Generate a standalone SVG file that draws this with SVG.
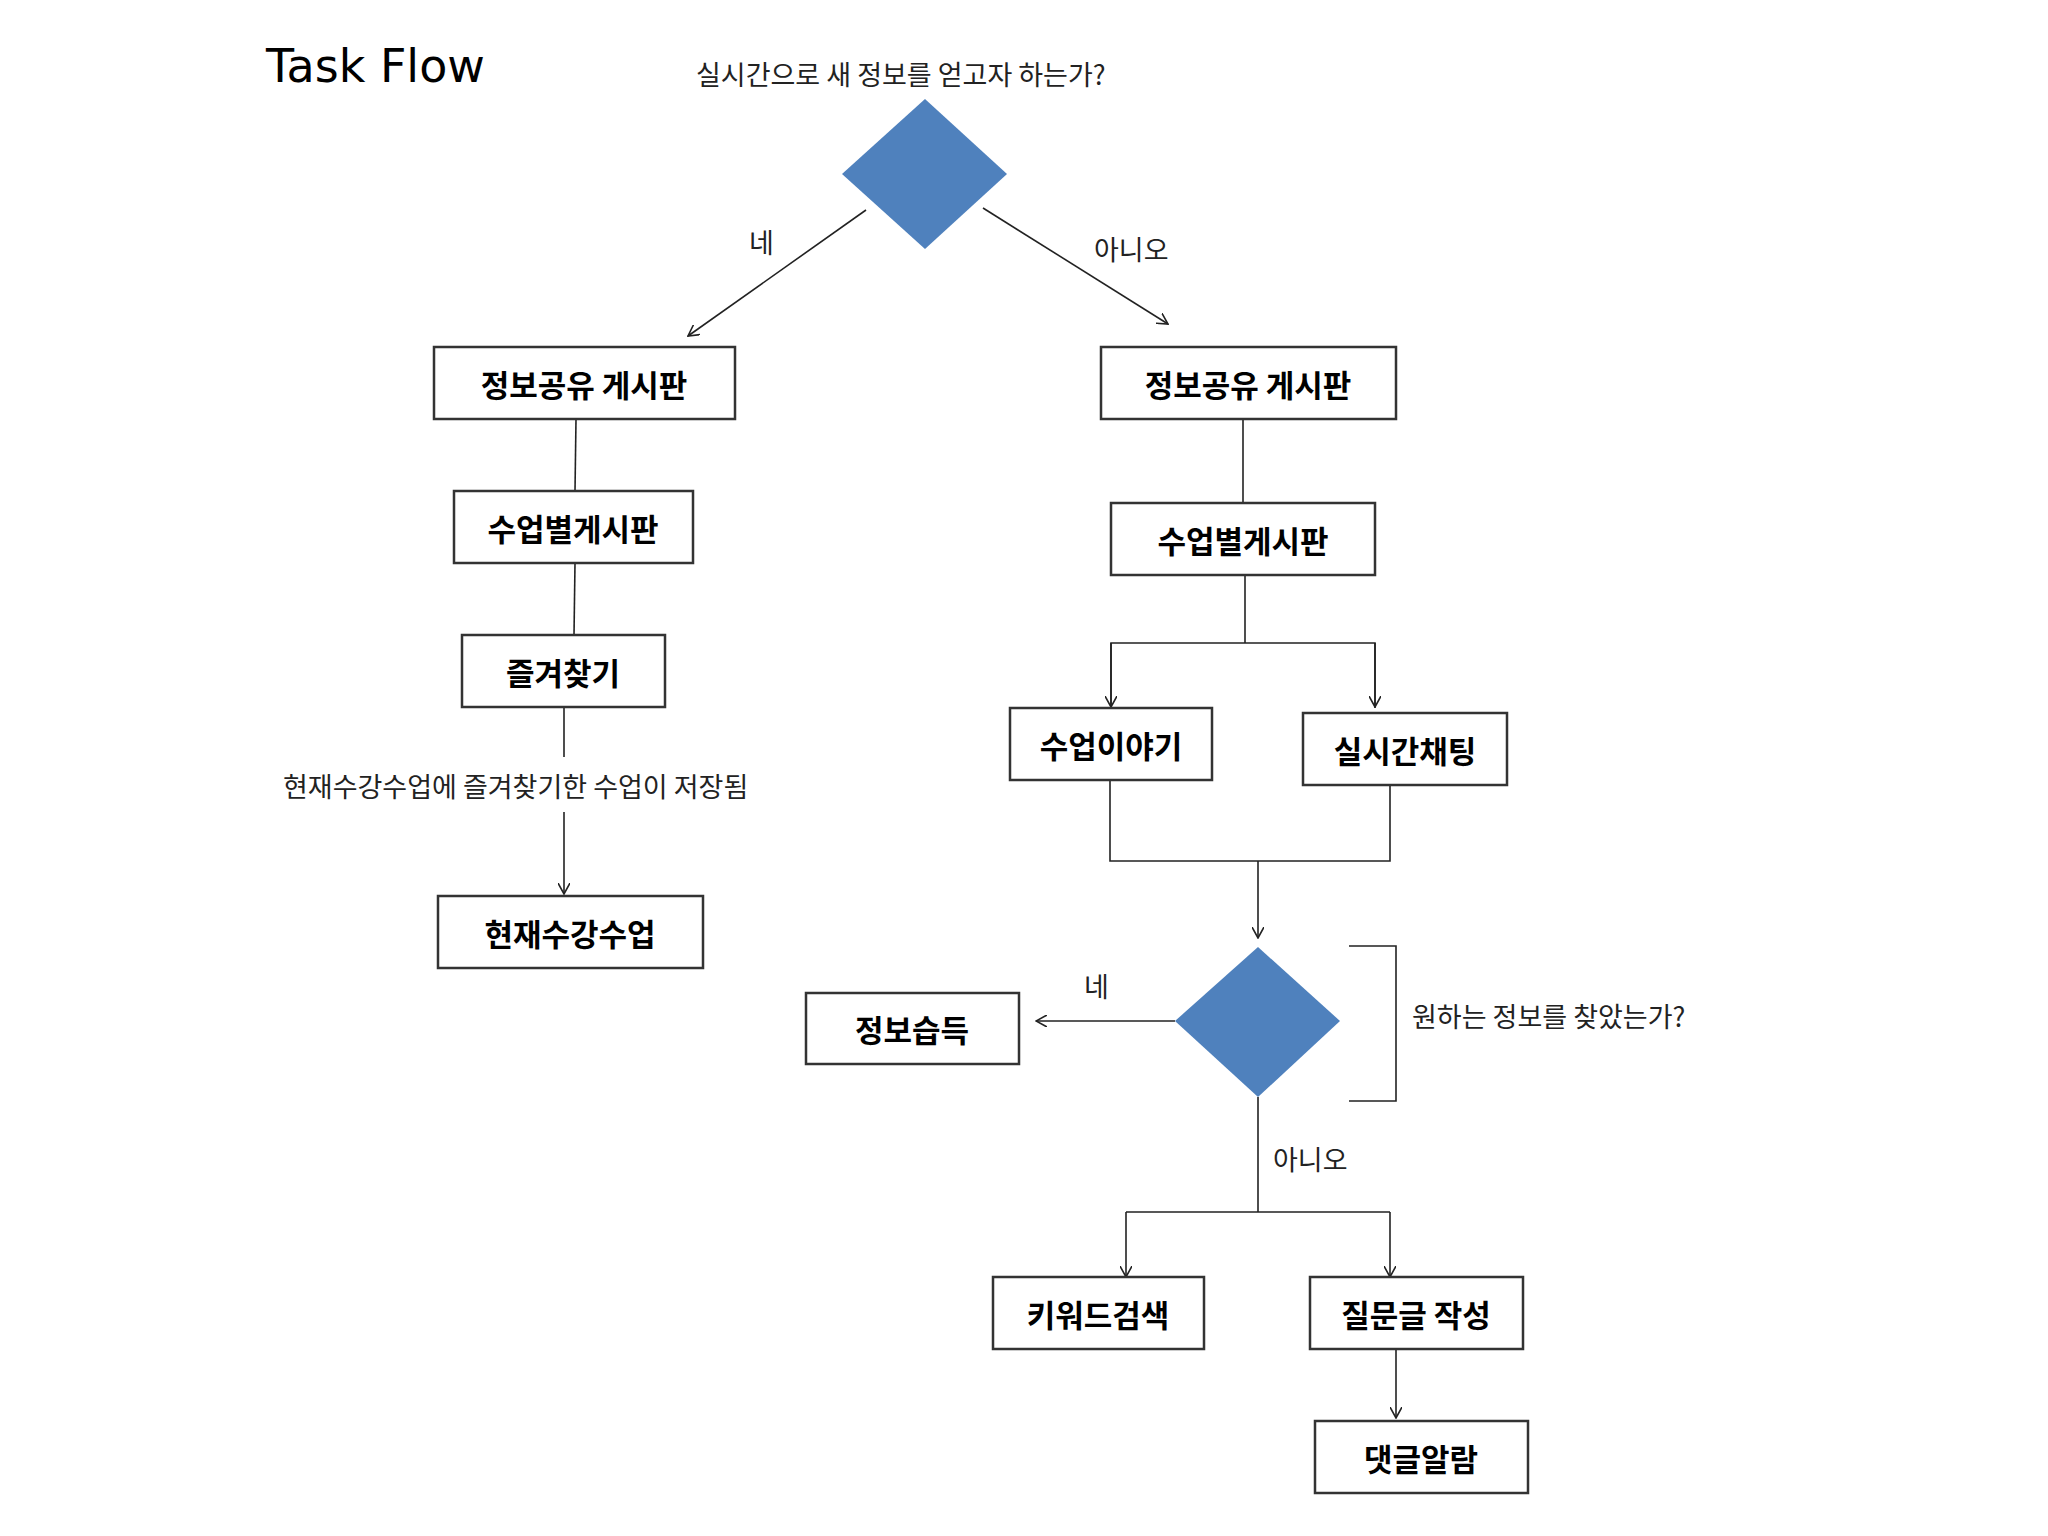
<svg xmlns="http://www.w3.org/2000/svg" width="2048" height="1536" viewBox="0 0 2048 1536">
<defs>
<style>
.box{fill:#fff;stroke:#333;stroke-width:2.5}
.bt{font-family:"Noto Sans CJK KR",sans-serif;font-weight:bold;font-size:31px;fill:#000;text-anchor:middle;dominant-baseline:central}
.lt{font-family:"Noto Sans CJK KR",sans-serif;font-size:27px;fill:#222;dominant-baseline:central}
.dia{fill:#4F81BD}
.ln{fill:none;stroke:#222;stroke-width:1.6}
</style>
<marker id="ar" viewBox="0 0 12 12" refX="11" refY="6" markerWidth="12" markerHeight="12" markerUnits="userSpaceOnUse" orient="auto">
<path d="M0,0 L11,6 L0,12" fill="none" stroke="#222" stroke-width="1.6"/>
</marker>
</defs>
<rect width="2048" height="1536" fill="#fff"/>
<text x="266" y="82" font-family="DejaVu Sans" font-size="46" fill="#000">Task Flow</text>
<text class="lt" x="696" y="73">실시간으로 새 정보를 얻고자 하는가?</text>
<g id="connectors">
<line class="ln" x1="866" y1="210" x2="688" y2="336" marker-end="url(#ar)"/>
<line class="ln" x1="983" y1="208" x2="1168" y2="324" marker-end="url(#ar)"/>
<line class="ln" x1="576" y1="419" x2="575" y2="491"/>
<line class="ln" x1="575" y1="563" x2="574" y2="635"/>
<line class="ln" x1="564" y1="707" x2="564" y2="757"/>
<line class="ln" x1="564" y1="812" x2="564" y2="894" marker-end="url(#ar)"/>
<line class="ln" x1="1243" y1="419" x2="1243" y2="503"/>
<path class="ln" d="M1245,575 V643"/>
<path class="ln" d="M1111,708 V643 H1375 V708" />
<line class="ln" x1="1111" y1="643" x2="1111" y2="707" marker-end="url(#ar)"/>
<line class="ln" x1="1375" y1="643" x2="1375" y2="707" marker-end="url(#ar)"/>
<path class="ln" d="M1110,780 V861 H1390 V785"/>
<line class="ln" x1="1258" y1="861" x2="1258" y2="938" marker-end="url(#ar)"/>
<path class="ln" d="M1349,946 H1396 V1101 H1349"/>
<line class="ln" x1="1175" y1="1021" x2="1036" y2="1021" marker-end="url(#ar)"/>
<path class="ln" d="M1258,1097 V1212 H1126 M1258,1212 H1390"/>
<line class="ln" x1="1126" y1="1212" x2="1126" y2="1277" marker-end="url(#ar)"/>
<line class="ln" x1="1390" y1="1212" x2="1390" y2="1277" marker-end="url(#ar)"/>
<line class="ln" x1="1396" y1="1349" x2="1396" y2="1418" marker-end="url(#ar)"/>
<text class="lt" x="749" y="241">네</text>
<text class="lt" x="1094" y="248">아니오</text>
<text class="lt" x="283" y="785">현재수강수업에 즐겨찾기한 수업이 저장됨</text>
<text class="lt" x="1084" y="985">네</text>
<text class="lt" x="1273" y="1158">아니오</text>
<text class="lt" x="1412" y="1015">원하는 정보를 찾았는가?</text>
</g>
<g id="d1"><polygon class="dia" points="925,99 1007,174 925,249 842,174"/></g>
<g id="d2"><polygon class="dia" points="1258,947 1340,1021 1258,1097 1175,1021"/></g>
<g id="l1"><rect class="box" x="434" y="347" width="301" height="72"/><text class="bt" x="584" y="383">정보공유 게시판</text></g>
<g id="l2"><rect class="box" x="454" y="491" width="239" height="72"/><text class="bt" x="573" y="527">수업별게시판</text></g>
<g id="l3"><rect class="box" x="462" y="635" width="203" height="72"/><text class="bt" x="563" y="671">즐겨찾기</text></g>
<g id="l4"><rect class="box" x="438" y="896" width="265" height="72"/><text class="bt" x="570" y="932">현재수강수업</text></g>
<g id="r1"><rect class="box" x="1101" y="347" width="295" height="72"/><text class="bt" x="1248" y="383">정보공유 게시판</text></g>
<g id="r2"><rect class="box" x="1111" y="503" width="264" height="72"/><text class="bt" x="1243" y="539">수업별게시판</text></g>
<g id="r3"><rect class="box" x="1010" y="708" width="202" height="72"/><text class="bt" x="1111" y="744">수업이야기</text></g>
<g id="r4"><rect class="box" x="1303" y="713" width="204" height="72"/><text class="bt" x="1405" y="749">실시간채팅</text></g>
<g id="r5"><rect class="box" x="806" y="993" width="213" height="71"/><text class="bt" x="912" y="1028">정보습득</text></g>
<g id="r6"><rect class="box" x="993" y="1277" width="211" height="72"/><text class="bt" x="1098" y="1313">키워드검색</text></g>
<g id="r7"><rect class="box" x="1310" y="1277" width="213" height="72"/><text class="bt" x="1416" y="1313">질문글 작성</text></g>
<g id="r8"><rect class="box" x="1315" y="1421" width="213" height="72"/><text class="bt" x="1421" y="1457">댓글알람</text></g>
</svg>
